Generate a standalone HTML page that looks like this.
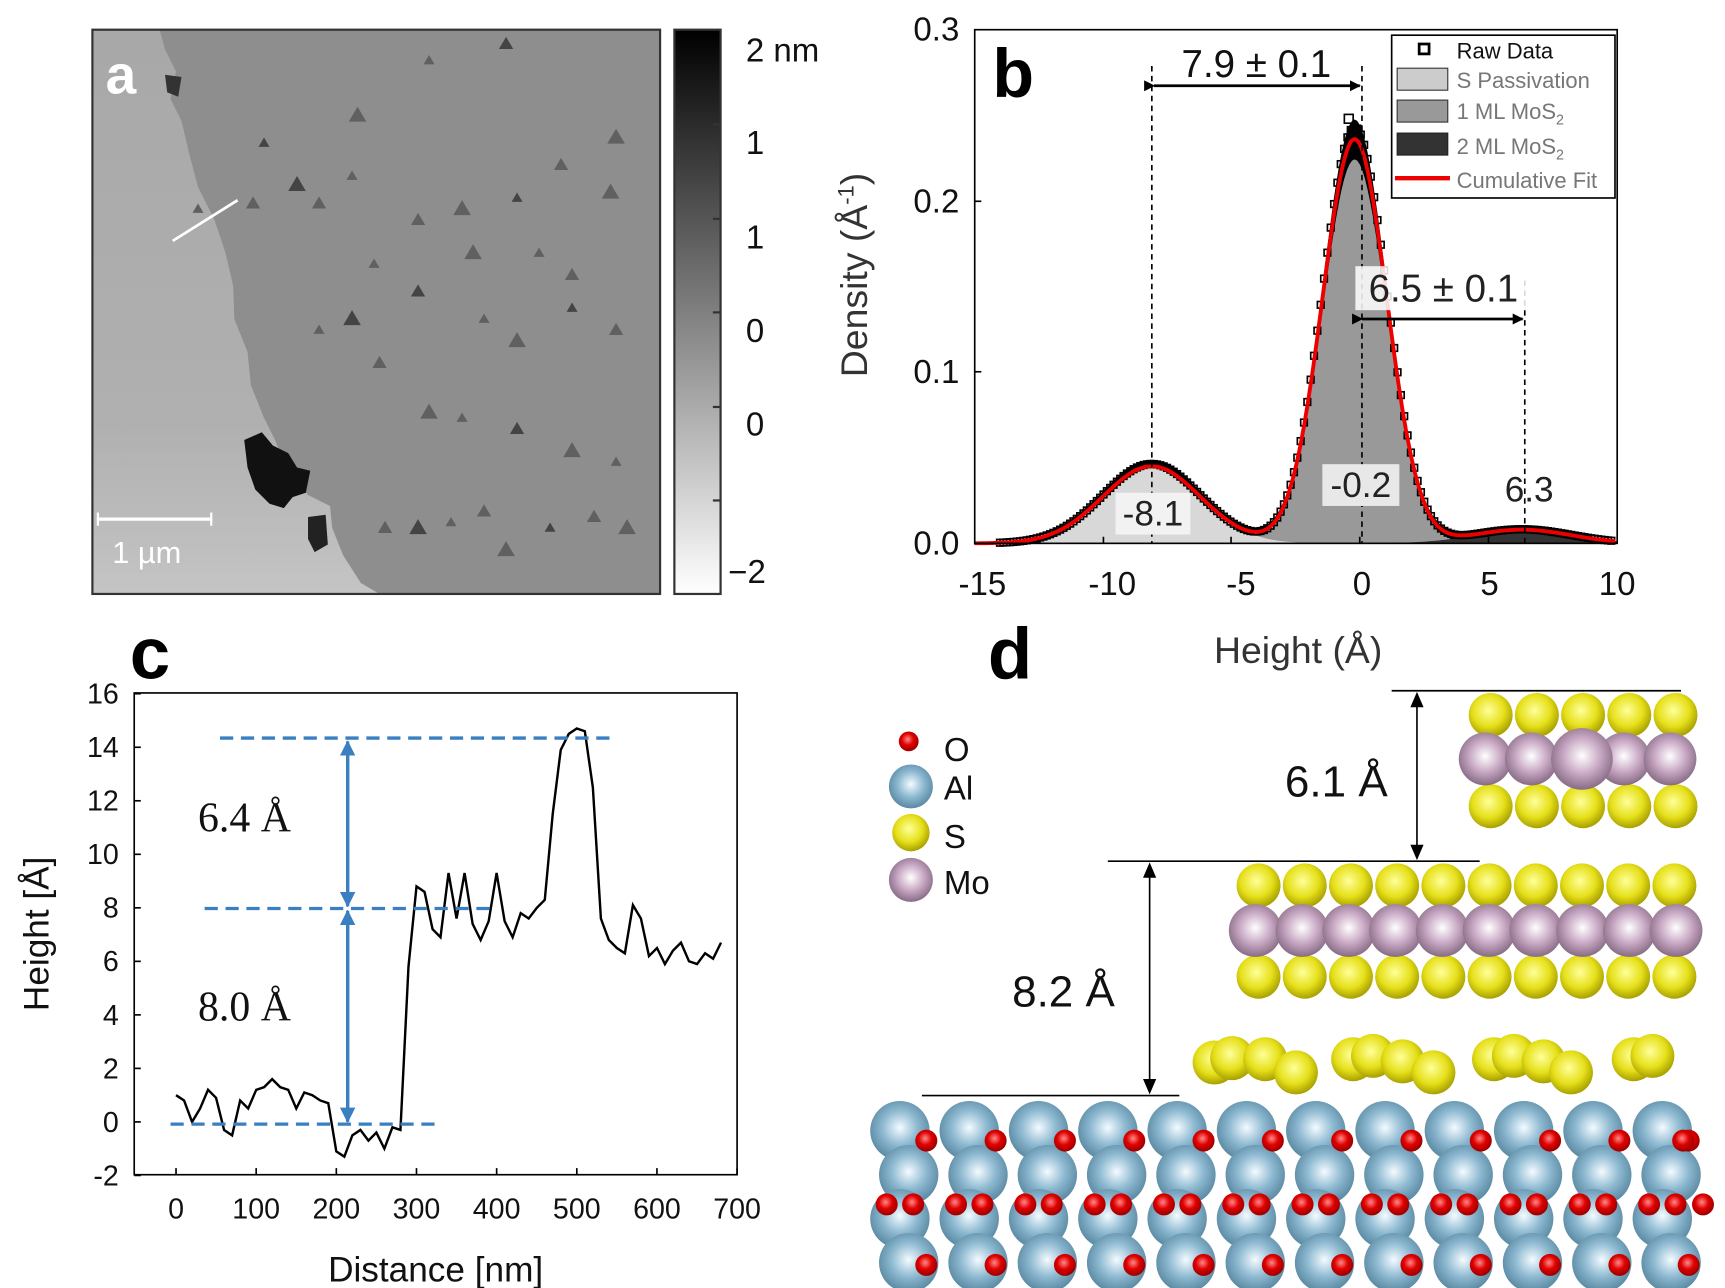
<!DOCTYPE html>
<html><head><meta charset="utf-8"><style>
html,body{margin:0;padding:0;background:#fff;width:1725px;height:1288px;overflow:hidden}
svg{display:block}
text{font-family:"Liberation Sans",sans-serif}
</style></head><body>
<svg id="s" width="1725" height="1288" viewBox="0 0 1568 1171" preserveAspectRatio="none" xmlns="http://www.w3.org/2000/svg">
<defs>
<linearGradient id="cb" x1="0" y1="0" x2="0" y2="1"><stop offset="0" stop-color="#000"/><stop offset="1" stop-color="#fff"/></linearGradient>
<linearGradient id="lg" x1="0" y1="0" x2="0" y2="1"><stop offset="0" stop-color="#a8a8a8"/><stop offset="0.7" stop-color="#b0b0b0"/><stop offset="1" stop-color="#c4c4c4"/></linearGradient>
<radialGradient id="gS" cx="0.45" cy="0.4" r="0.6"><stop offset="0" stop-color="#ffff9a"/><stop offset="0.6" stop-color="#e6e01a"/><stop offset="1" stop-color="#a8a000"/></radialGradient>
<radialGradient id="gMo" cx="0.5" cy="0.45" r="0.6"><stop offset="0" stop-color="#fff"/><stop offset="0.5" stop-color="#c8a8c4"/><stop offset="1" stop-color="#7a5f78"/></radialGradient>
<radialGradient id="gAl" cx="0.5" cy="0.45" r="0.6"><stop offset="0" stop-color="#f4fbff"/><stop offset="0.5" stop-color="#8cb8d0"/><stop offset="1" stop-color="#4f7f98"/></radialGradient>
<radialGradient id="gO" cx="0.45" cy="0.4" r="0.6"><stop offset="0" stop-color="#ff8a8a"/><stop offset="0.5" stop-color="#e00000"/><stop offset="1" stop-color="#900"/></radialGradient>
<marker id="ah" markerWidth="10" markerHeight="10" refX="9" refY="5" orient="auto" markerUnits="userSpaceOnUse"><path d="M0,0 L10,5 L0,10 z" fill="#000"/></marker>
<marker id="ab" markerWidth="14" markerHeight="14" refX="13" refY="7" orient="auto" markerUnits="userSpaceOnUse"><path d="M0,0 L14,7 L0,14 z" fill="#3a7fc0"/></marker>
</defs>

<!-- Panel a -->
<rect x="84" y="27" width="516" height="513" fill="#8e8e8e"/>
<path d="M84,27 L145,27 L150,45 L160,65 L155,90 L165,110 L172,140 L180,170 L195,200 L205,230 L212,260 L213,290 L225,320 L228,350 L240,380 L250,400 L262,430 L280,450 L300,460 L302,480 L312,505 L328,530 L345,540 L84,540 Z" fill="url(#lg)"/>
<path d="M222,400 L238,393 L248,405 L262,412 L270,425 L282,428 L278,448 L266,452 L258,462 L245,458 L232,445 L225,425 Z" fill="#111"/>
<path d="M280,470 L296,468 L298,495 L286,502 L280,490 Z" fill="#222"/>
<path d="M150,68 L165,70 L162,88 L152,84Z" fill="#333"/>
<line x1="157" y1="219" x2="216" y2="182" stroke="#fff" stroke-width="2.5"/>
<g id="tris"></g>
<rect x="84" y="27" width="516" height="513" fill="none" stroke="#333" stroke-width="2"/>
<text x="96" y="85" font-size="50" font-weight="bold" fill="#fff">a</text>
<line x1="88" y1="472" x2="193" y2="472" stroke="#fff" stroke-width="3"/>
<line x1="89" y1="466" x2="89" y2="478" stroke="#fff" stroke-width="2"/><line x1="192" y1="466" x2="192" y2="478" stroke="#fff" stroke-width="2"/>
<text x="102" y="512" font-size="28" fill="#fff">1 µm</text>
<rect x="613" y="27" width="42" height="513" fill="url(#cb)" stroke="#333" stroke-width="2"/>
<g stroke="#333" stroke-width="2"><line x1="648" y1="113" x2="655" y2="113"/><line x1="648" y1="199" x2="655" y2="199"/><line x1="648" y1="284" x2="655" y2="284"/><line x1="648" y1="370" x2="655" y2="370"/><line x1="648" y1="455" x2="655" y2="455"/></g>
<g font-size="30" fill="#111"><text x="678" y="56">2 nm</text><text x="678" y="140">1</text><text x="678" y="226">1</text><text x="678" y="311">0</text><text x="678" y="396">0</text><text x="662" y="530">−2</text></g>

<!-- Panel b -->
<g id="pb"></g>
<rect x="886" y="27" width="584" height="467" fill="none" stroke="#000" stroke-width="1.5"/>
<g font-size="30" fill="#111" text-anchor="end">
<text x="872" y="504">0.0</text><text x="872" y="348">0.1</text><text x="872" y="193">0.2</text><text x="872" y="37">0.3</text></g>
<g font-size="30" fill="#111" text-anchor="middle">
<text x="893" y="541">-15</text><text x="1011" y="541">-10</text><text x="1128" y="541">-5</text><text x="1238" y="541">0</text><text x="1354" y="541">5</text><text x="1470" y="541">10</text></g>
<g stroke="#000" stroke-width="1.5"><line x1="886" y1="338" x2="892" y2="338"/><line x1="886" y1="183" x2="892" y2="183"/><line x1="1003" y1="494" x2="1003" y2="488"/><line x1="1119" y1="494" x2="1119" y2="488"/><line x1="1236" y1="494" x2="1236" y2="488"/><line x1="1353" y1="494" x2="1353" y2="488"/></g>
<text x="1180" y="603" font-size="34" fill="#333" text-anchor="middle">Height (Å)</text>
<text transform="translate(788,250) rotate(-90)" font-size="34" fill="#333" text-anchor="middle">Density (Å<tspan font-size="20" dy="-12">-1</tspan><tspan dy="12">)</tspan></text>
<text x="902" y="88" font-size="62" font-weight="bold" fill="#000">b</text>
<g stroke="#000" stroke-width="1.5" stroke-dasharray="5,4"><line x1="1047" y1="60" x2="1047" y2="494"/><line x1="1238" y1="60" x2="1238" y2="494"/><line x1="1386" y1="255" x2="1386" y2="494"/></g>
<line x1="1049" y1="78" x2="1236" y2="78" stroke="#000" stroke-width="2.5" marker-end="url(#ah)" marker-start="url(#ah)"/>
<text x="1142" y="70" font-size="35" fill="#111" text-anchor="middle">7.9 ± 0.1</text>
<rect x="1232" y="242" width="160" height="40" fill="#fff" opacity="0.85"/>
<text x="1312" y="274" font-size="35" fill="#222" text-anchor="middle">6.5 ± 0.1</text>
<line x1="1238" y1="290" x2="1384" y2="290" stroke="#000" stroke-width="2.5" marker-end="url(#ah)" marker-start="url(#ah)"/>
<rect x="1014" y="448" width="68" height="38" fill="#f2f2f2"/><text x="1048" y="478" font-size="32" fill="#222" text-anchor="middle">-8.1</text>
<rect x="1202" y="422" width="70" height="38" fill="#e8e8e8"/><text x="1237" y="452" font-size="32" fill="#222" text-anchor="middle">-0.2</text>
<text x="1390" y="456" font-size="32" fill="#222" text-anchor="middle">6.3</text>
<rect x="1265" y="32" width="203" height="148" fill="#fff" stroke="#000" stroke-width="1.5"/>
<rect x="1290" y="40" width="9" height="9" fill="none" stroke="#000" stroke-width="2.5"/>
<rect x="1270" y="62" width="46" height="20" fill="#ccc" stroke="#333"/>
<rect x="1270" y="91" width="46" height="20" fill="#999" stroke="#333"/>
<rect x="1270" y="121" width="46" height="20" fill="#333" stroke="#222"/>
<line x1="1268" y1="162" x2="1318" y2="162" stroke="#e00" stroke-width="4"/>
<g font-size="20"><text x="1324" y="53" fill="#111">Raw Data</text><text x="1324" y="80" fill="#777">S Passivation</text><text x="1324" y="108" fill="#777">1 ML MoS<tspan font-size="13" dy="5">2</tspan></text><text x="1324" y="140" fill="#777">2 ML MoS<tspan font-size="13" dy="5">2</tspan></text><text x="1324" y="171" fill="#777">Cumulative Fit</text></g>

<!-- Panel c -->
<text x="118" y="617" font-size="66" font-weight="bold" fill="#000">c</text>
<rect x="122" y="630" width="548" height="438" fill="none" stroke="#000" stroke-width="1.5"/>
<g id="pc"></g>
<g font-size="26" fill="#111" text-anchor="end" id="cy"></g>
<g font-size="26" fill="#111" text-anchor="middle" id="cx"></g>
<text x="396" y="1165" font-size="32" fill="#111" text-anchor="middle">Distance [nm]</text>
<text transform="translate(44,849) rotate(-90)" font-size="32" fill="#111" text-anchor="middle">Height [Å]</text>
<g stroke="#3a7fc0" stroke-width="3" stroke-dasharray="12,7"><line x1="200" y1="671" x2="560" y2="671"/><line x1="186" y1="826" x2="445" y2="826"/><line x1="155" y1="1022" x2="398" y2="1022"/></g>
<g stroke="#3a7fc0" stroke-width="3"><line x1="316" y1="815" x2="316" y2="674" marker-end="url(#ab)"/><line x1="316" y1="680" x2="316" y2="824" marker-end="url(#ab)"/><line x1="316" y1="1010" x2="316" y2="828" marker-end="url(#ab)"/><line x1="316" y1="836" x2="316" y2="1020" marker-end="url(#ab)"/></g>
<text x="180" y="756" font-size="38" fill="#111" style="font-family:'Liberation Serif',serif">6.4 Å</text>
<text x="180" y="928" font-size="38" fill="#111" style="font-family:'Liberation Serif',serif">8.0 Å</text>

<!-- Panel d -->
<text x="898" y="617" font-size="66" font-weight="bold" fill="#000">d</text>
<g id="pd"></g>
<circle cx="826" cy="674" r="9" fill="url(#gO)"/><circle cx="828" cy="715" r="20" fill="url(#gAl)"/><circle cx="828" cy="757" r="17" fill="url(#gS)"/><circle cx="828" cy="800" r="20" fill="url(#gMo)"/>
<g font-size="30" fill="#111"><text x="858" y="692">O</text><text x="858" y="727">Al</text><text x="858" y="771">S</text><text x="858" y="813">Mo</text></g>
<g stroke="#000" stroke-width="1.5"><line x1="1265" y1="628" x2="1528" y2="628"/><line x1="1007" y1="783" x2="1345" y2="783"/><line x1="838" y1="996" x2="1072" y2="996"/></g>
<line x1="1288" y1="640" x2="1288" y2="773" stroke="#000" stroke-width="1.5"/>
<path d="M1288,629 l-6,14 h12z M1288,782 l-6,-14 h12z" fill="#000"/>
<line x1="1045" y1="795" x2="1045" y2="985" stroke="#000" stroke-width="1.5"/>
<path d="M1045,784 l-6,14 h12z M1045,995 l-6,-14 h12z" fill="#000"/>
<text x="1168" y="724" font-size="40" fill="#111">6.1 Å</text>
<text x="920" y="915" font-size="40" fill="#111">8.2 Å</text>
</svg>
<script>
var NS="http://www.w3.org/2000/svg";
function el(p,t,a){var e=document.createElementNS(NS,t);for(var k in a)e.setAttribute(k,a[k]);p.appendChild(e);return e;}
var tg=document.getElementById('tris');
var tr=[[240,130],[290,185],[325,105],[390,55],[460,40],[560,125],[180,190],[230,185],[270,168],[320,160],[380,200],[420,190],[470,180],[510,150],[555,175],[340,240],[380,265],[430,230],[490,230],[520,250],[320,290],[290,300],[345,330],[470,310],[520,280],[560,300],[390,375],[420,380],[470,390],[520,410],[560,420],[350,480],[380,480],[410,475],[440,465],[460,500],[500,480],[540,470],[570,480],[440,290]];
tr.forEach(function(p,i){var s=5+(i%3)*1.5;el(tg,'path',{d:'M'+p[0]+','+(p[1]-s)+' L'+(p[0]+s)+','+(p[1]+s*0.7)+' L'+(p[0]-s)+','+(p[1]+s*0.7)+'Z',fill:i%4==0?'#444':'#606060'});});
var pb=document.getElementById('pb');
function X(h){return 1236+h*23.36;} function Y(d){return 494-d*1557;}
function g(x,m,a,s){return a*Math.exp(-0.5*Math.pow((x-m)/s,2));}
function f1(x){return g(x,-8.1,0.045,1.9);} function f2(x){return g(x,-0.2,0.236,1.25);} function f3(x){return g(x,6.3,0.008,1.9);}
function area(f,col){var d='M'+X(-15)+','+Y(0);for(var x=-15;x<=10;x+=0.1)d+=' L'+X(x).toFixed(1)+','+Y(f(x)).toFixed(1);d+=' L'+X(10)+','+Y(0)+'Z';el(pb,'path',{d:d,fill:col});}
area(function(x){return (f1(x)+f2(x)+f3(x))*1.04+0.002*(x>-12&&x<9);},'#000');
area(function(x){return f1(x)+f2(x)*0.95;},'#999');
area(f1,'#d8d8d8');
area(function(x){return f3(x)*0.9;},'#333');
for(var x=-14;x<=9.9;x+=0.13){var v=f1(x)+f2(x)+f3(x);v*=1.03;el(pb,'rect',{x:X(x)-3,y:Y(v)-3,width:6,height:6,fill:'none',stroke:'#000','stroke-width':1.5});}
el(pb,'rect',{x:1222,y:104,width:8,height:8,fill:'none',stroke:'#000','stroke-width':1.5});
var d='';for(var x=-15;x<=10;x+=0.05)d+=(d?' L':'M')+X(x).toFixed(1)+','+Y(f1(x)+f2(x)+f3(x)).toFixed(1);
el(pb,'path',{d:d,fill:'none',stroke:'#e00','stroke-width':3.5});
var pc=document.getElementById('pc');
function CX(v){return 160+v*0.7286;} function CY(v){return 1020-v*24.33;}
var dat=[1,0.8,0,0.5,1.2,0.9,-0.3,-0.5,0.8,0.5,1.2,1.3,1.6,1.3,1.2,0.5,1.1,1,0.8,0.7,-1.1,-1.3,-0.5,-0.3,-0.7,-0.4,-1,-0.2,-0.3,5.8,8.8,8.6,7.2,6.9,9.3,7.6,9.3,7.4,6.8,7.5,9.3,7.5,6.9,7.8,7.6,8,8.3,11.5,13.9,14.5,14.7,14.6,12.5,7.6,6.8,6.5,6.3,8.1,7.6,6.2,6.5,5.9,6.4,6.7,6,5.9,6.3,6.1,6.7];
var d='';dat.forEach(function(v,i){d+=(i?' L':'M')+CX(i*10).toFixed(1)+','+CY(v).toFixed(1);});
el(pc,'path',{d:d,fill:'none',stroke:'#000','stroke-width':2.2});
var cy=document.getElementById('cy'),cx=document.getElementById('cx');
for(var v=-2;v<=16;v+=2){el(pc,'line',{x1:122,y1:CY(v),x2:128,y2:CY(v),stroke:'#000','stroke-width':1.5});var t=el(cy,'text',{x:108,y:CY(v)+9});t.textContent=v;}
for(var v=0;v<=700;v+=100){el(pc,'line',{x1:CX(v),y1:1068,x2:CX(v),y2:1062,stroke:'#000','stroke-width':1.5});var t=el(cx,'text',{x:CX(v),y:1108});t.textContent=v;}
var pd=document.getElementById('pd');
function at(x,y,r,gid){el(pd,'circle',{cx:x,cy:y,r:r,fill:'url(#'+gid+')'});}
for(var row=0;row<4;row++){for(var c=0;c<12;c++){var x=818+c*63+(row%2?8:0);var y=1028+row*40;at(x,y,27,'gAl');}}
for(var c=0;c<12;c++){at(842+c*63,1037,10,'gO');at(806+c*63,1095,10,'gO');at(830+c*63,1095,10,'gO');at(842+c*63,1150,10,'gO');}
at(1548,1095,10,'gO');at(1530,1037,10,'gO');
[[1104,966],[1120,962],[1150,963],[1178,975],[1230,963],[1248,960],[1275,965],[1303,975],[1358,963],[1376,960],[1403,965],[1428,975],[1485,963],[1502,960]].forEach(function(p){at(p[0],p[1],20,'gS');});
for(var i=0;i<10;i++){at(1144+i*42,805,20,'gS');at(1144+i*42,888,20,'gS');}
for(var i=0;i<10;i++){at(1141+i*42.5,846,24,'gMo');}
for(var i=0;i<5;i++){at(1355+i*42,650,20,'gS');at(1355+i*42,733,20,'gS');}
for(var i=0;i<5;i++){at(1350+i*42,690,24,'gMo');}
at(1438,690,28,'gMo');
</script>
</body></html>
